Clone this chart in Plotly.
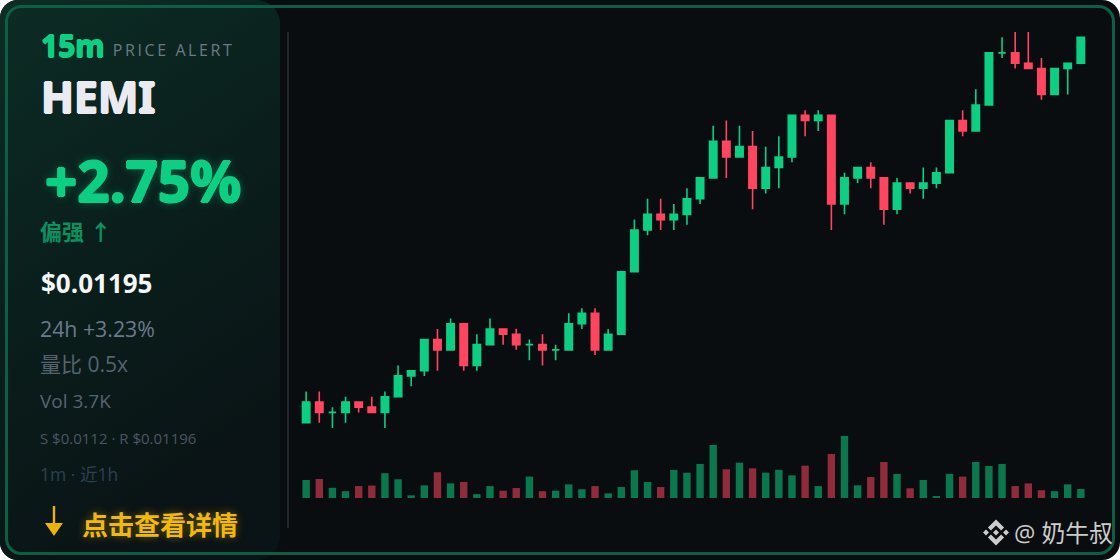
import base64
import plotly.graph_objects as go

# ---- data ----
opens = [0.01121,0.01125,0.01123,0.01123,0.01125,0.01124,0.01123,0.01126,0.01130,0.01131,
         0.01137,0.01135,0.01140,0.01132,0.01136,0.01139,0.01138,0.01136,0.01136,0.01135,
         0.01135,0.01140,0.01142,0.01135,0.01138,0.01150,0.01158,0.01161,0.01160,0.01161,
         0.01164,0.01168,0.01175,0.01172,0.01174,0.01166,0.01170,0.01172,0.01180,0.01179,
         0.01180,0.01163,0.01168,0.01170,0.01168,0.01162,0.01167,0.01166,0.01167,0.01169,
         0.01179,0.01177,0.01182,0.01192,0.01192,0.01190,0.01189,0.01184,0.01189,0.01190]
closes = [0.01125,0.01123,0.01123,0.01125,0.01124,0.01123,0.01126,0.01130,0.01131,0.01137,
          0.01135,0.01140,0.01132,0.01136,0.01139,0.01138,0.01136,0.01136,0.01135,0.01135,
          0.01140,0.01142,0.01135,0.01138,0.01150,0.01158,0.01161,0.01160,0.01161,0.01164,
          0.01168,0.01175,0.01172,0.01174,0.01166,0.01170,0.01172,0.01180,0.01179,0.01180,
          0.01163,0.01168,0.01170,0.01168,0.01162,0.01167,0.01166,0.01167,0.01169,0.01179,
          0.01177,0.01182,0.01192,0.01192,0.01190,0.01189,0.01184,0.01189,0.01190,0.01195]
highs = [0.01127,0.01127,0.01124,0.01126,0.01125,0.01126,0.01127,0.01132,0.01131,0.01137,
         0.01139,0.01141,0.01140,0.01138,0.01141,0.01139,0.01139,0.01137,0.01138,0.01136,
         0.01142,0.01143,0.01143,0.01139,0.01150,0.01160,0.01164,0.01164,0.01163,0.01166,
         0.01168,0.01178,0.01179,0.01178,0.01177,0.01174,0.01176,0.01180,0.01181,0.01181,
         0.01180,0.01169,0.01170,0.01171,0.01168,0.01168,0.01167,0.01170,0.01170,0.01179,
         0.01181,0.01185,0.01192,0.01195,0.01196,0.01196,0.01191,0.01189,0.01190,0.01195]
lows = [0.01121,0.01121,0.01120,0.01121,0.01123,0.01123,0.01120,0.01126,0.01128,0.01130,
        0.01131,0.01135,0.01131,0.01131,0.01136,0.01136,0.01135,0.01133,0.01132,0.01133,
        0.01135,0.01139,0.01134,0.01135,0.01138,0.01150,0.01157,0.01158,0.01158,0.01159,
        0.01163,0.01168,0.01168,0.01172,0.01162,0.01165,0.01166,0.01171,0.01176,0.01177,
        0.01158,0.01161,0.01167,0.01166,0.01159,0.01161,0.01165,0.01164,0.01166,0.01169,
        0.01176,0.01177,0.01182,0.01191,0.01189,0.01189,0.01183,0.01184,0.01184,0.01190]
volumes_k = [7.4,7.8,4.2,2.8,4.9,5.1,10.2,7.7,1.1,5.2,10.6,6.0,6.6,1.6,4.9,3.0,4.1,8.8,2.8,3.0,
             5.6,3.6,4.9,1.9,4.5,11.4,6.6,4.5,11.5,10.4,14.0,21.8,11.8,14.5,12.2,10.4,11.6,9.3,13.3,4.9,
             18.1,25.5,5.2,8.6,14.8,9.9,4.0,7.4,0.8,9.9,8.8,14.8,13.2,14.0,4.9,6.0,3.2,2.8,5.6,3.7]

GREEN = "#0ccf83"
RED = "#ff4560"
W, H = 1120, 560


def px(x):
    return x / W


def py(y):
    return 1 - y / H


bg_svg = f'''<svg xmlns="http://www.w3.org/2000/svg" width="{W}" height="{H}">
<defs><linearGradient id="g" x1="0" y1="0" x2="0.35" y2="1">
<stop offset="0" stop-color="#0c2c24"/><stop offset="0.5" stop-color="#0a1f1c"/><stop offset="1" stop-color="#0a1315"/></linearGradient></defs>
<rect x="0" y="0" width="{W}" height="{H}" rx="18" fill="#0a0d10"/>
<path d="M0 18 A18 18 0 0 1 18 0 H256 A24 24 0 0 1 280 24 V536 A24 24 0 0 1 256 560 H18 A18 18 0 0 1 0 542 Z" fill="url(#g)"/>
<rect x="6.5" y="6.5" width="{W-13}" height="{H-13}" rx="15" fill="none" stroke="#0d5f43" stroke-width="3"/>
</svg>'''
bg_uri = "data:image/svg+xml;base64," + base64.b64encode(bg_svg.encode()).decode()

idx = list(range(len(opens)))
up = [i for i in idx if closes[i] >= opens[i]]
down = [i for i in idx if closes[i] < opens[i]]


def candle(sel, colour):
    style = dict(line=dict(color=colour, width=1.6), fillcolor=colour)
    return go.Candlestick(
        x=sel,
        open=[opens[i] for i in sel],
        high=[highs[i] for i in sel],
        low=[lows[i] for i in sel],
        close=[closes[i] for i in sel],
        increasing=style,
        decreasing=style,
        whiskerwidth=0,
        hoverinfo="skip",
        xaxis="x",
        yaxis="y",
    )


fig = go.Figure()
fig.add_trace(candle(up, GREEN))
fig.add_trace(candle(down, RED))
fig.add_trace(go.Bar(
    x=idx,
    y=volumes_k,
    yaxis="y2",
    width=0.56,
    marker=dict(
        color=["rgba(12,207,131,0.55)" if closes[i] >= opens[i] else "rgba(255,69,96,0.55)" for i in idx],
        line=dict(width=0),
    ),
    hoverinfo="skip",
))


def text(s, x, y, size, colour, weight=400, family="Open Sans, Noto Sans CJK SC", shadow=None, anchor="left"):
    font = dict(size=size, color=colour, weight=weight, family=family)
    if shadow:
        font["shadow"] = shadow
    return dict(text=s, x=px(x), y=py(y), xref="paper", yref="paper", xanchor=anchor, yanchor="middle",
                showarrow=False, font=font, borderpad=0, borderwidth=0)


def heavy(colour, d, glow=""):
    # thickens a bold face towards the black weight of the reference
    return f"{d}px 0 0 {colour}, -{d}px 0 0 {colour}, 0 {d}px 0 {colour}, 0 -{d}px 0 {colour}" + glow


HEAD = "Noto Sans"
annotations = [
    text("15m", 40.5, 45, 30, GREEN, 700, HEAD, shadow=heavy(GREEN, 0.7)),
    text("PRICE ALERT", 173, 49.5, 16, "#6c7a86", anchor="center"),
    text("HEMI", 41, 96, 43, "#e9ebf1", 700, HEAD, shadow=heavy("#e9ebf1", 0.9)),
    text("+2.75%", 45, 181, 56.5, GREEN, 700, HEAD,
         shadow=heavy(GREEN, 1.0, ", 0 0 10px rgba(12,207,131,0.45)")),
    text("偏强 ↑", 40, 231, 22, "#0b9160", 700),
    text("$0.01195", 41, 283, 26, "#f4f6f8", 700),
    text("24h +3.23%", 40, 328.5, 21.3, "#6b7a8a"),
    text("量比 0.5x", 40, 364, 21, "#56636f"),
    text("Vol 3.7K", 40, 401, 19, "#56636f"),
    text("S $0.0112 · R $0.01196", 40, 438, 15, "#4a5663"),
    text("1m · 近1h", 40, 474, 17.5, "#2e4152"),
    text("点击查看详情", 82, 525, 26, "#f0b90b", 700, shadow="0 0 8px rgba(240,185,11,0.45)"),
    text("@ 奶牛叔", 1013.5, 533, 23.8, "#cccccc"),
]


def pts(points, ox, oy, k):
    return "M" + " L".join(f"{px(ox + a * k):.5f} {py(oy + b * k):.5f}" for a, b in points) + " Z"


logo_parts = [
    [(38.2, 53.2), (62.8, 28.6), (87.4, 53.2), (101.7, 38.9), (62.8, 0), (23.9, 38.9)],
    [(0, 62.8), (14.3, 48.5), (28.6, 62.8), (14.3, 77.1)],
    [(38.2, 72.3), (62.8, 96.9), (87.4, 72.3), (101.7, 86.6), (62.8, 125.5), (23.9, 86.6)],
    [(96.9, 62.8), (111.2, 48.5), (125.5, 62.8), (111.2, 77.1)],
    [(77.3, 62.8), (62.8, 48.2), (48.3, 62.8), (62.8, 77.3)],
]
shapes = [
    dict(type="line", xref="paper", yref="paper", x0=px(288), x1=px(288), y0=py(32), y1=py(528),
         line=dict(color="#20262c", width=2), layer="below"),
    dict(type="path", xref="paper", yref="paper",
         path=f"M{px(52.8):.5f} {py(506):.5f} L{px(55.2):.5f} {py(506):.5f} L{px(55.2):.5f} {py(523):.5f} "
              f"L{px(63):.5f} {py(523):.5f} L{px(54):.5f} {py(536):.5f} L{px(45):.5f} {py(523):.5f} "
              f"L{px(52.8):.5f} {py(523):.5f} Z",
         fillcolor="#eab308", line=dict(width=0)),
]
for part in logo_parts:
    shapes.append(dict(type="path", xref="paper", yref="paper", path=pts(part, 983, 519.5, 26 / 125.5),
                       fillcolor="#cccccc", line=dict(width=0)))

fig.update_layout(
    width=W,
    height=H,
    autosize=False,
    margin=dict(l=0, r=0, t=0, b=0),
    paper_bgcolor="#ffffff",
    plot_bgcolor="rgba(0,0,0,0)",
    showlegend=False,
    boxgap=0.2,
    bargap=0.44,
    dragmode=False,
    xaxis=dict(domain=[px(295), px(1100)], range=[-0.85, 60.46], visible=False, rangeslider=dict(visible=False), fixedrange=True),
    yaxis=dict(domain=[py(440), py(20)], range=[0.011177, 0.011983], visible=False, fixedrange=True),
    yaxis2=dict(domain=[py(498), py(430)], range=[0, 27.95], visible=False, fixedrange=True, anchor="x"),
    images=[dict(source=bg_uri, xref="paper", yref="paper", x=0, y=1, sizex=1, sizey=1,
                 sizing="stretch", xanchor="left", yanchor="top", layer="below")],
    annotations=annotations,
    shapes=shapes,
)

post = """
document.documentElement.style.margin='0';document.body.style.margin='0';document.body.style.background='#fff';
document.querySelectorAll('.annotation-text').forEach(function(t){
  if(t.textContent==='PRICE ALERT'){t.style.letterSpacing='2.6px';}
});
"""
fig.write_html("out.html", post_script=post, config=dict(displayModeBar=False, responsive=False))
